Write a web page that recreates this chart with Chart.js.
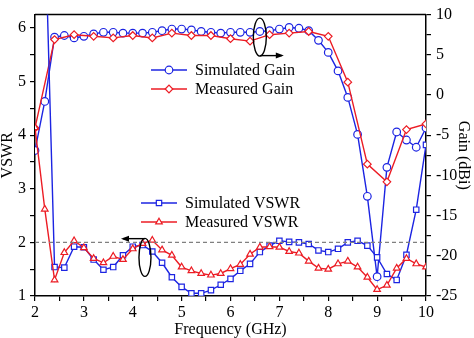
<!DOCTYPE html>
<html>
<head>
<meta charset="utf-8">
<script src="https://cdn.jsdelivr.net/npm/chart.js@4.4.0/dist/chart.umd.min.js"></script>
<style>
  html, body { margin: 0; padding: 0; background: #fff; }
  canvas { display: block; }
</style>
</head>
<body>
<canvas id="c" width="474" height="338"></canvas>
<script>
// frequency grids (GHz)
const FREQ_FINE = [2.0, 2.2, 2.4, 2.6, 2.8, 3.0, 3.2, 3.4, 3.6, 3.8, 4.0, 4.2, 4.4, 4.6, 4.8,
  5.0, 5.2, 5.4, 5.6, 5.8, 6.0, 6.2, 6.4, 6.6, 6.8, 7.0, 7.2, 7.4, 7.6, 7.8, 8.0,
  8.2, 8.4, 8.6, 8.8, 9.0, 9.2, 9.4, 9.6, 9.8, 10.0];
const FREQ_COARSE = [2.0, 2.4, 2.8, 3.2, 3.6, 4.0, 4.4, 4.8, 5.2, 5.6, 6.0, 6.4, 6.8,
  7.2, 7.6, 8.0, 8.4, 8.8, 9.2, 9.6, 10.0];

// gain (dBi), right axis
const SIM_GAIN = [-6.9, -0.8, 7.2, 7.4, 7.1, 7.3, 7.6, 7.8, 7.8, 7.7, 7.7, 7.7, 7.8, 8.0, 8.2,
  8.2, 8.1, 7.9, 7.8, 7.7, 7.8, 7.8, 7.8, 7.9, 8.0, 8.2, 8.4, 8.3, 8.0, 6.8, 5.3,
  3.0, -0.3, -4.9, -12.6, -22.6, -9.0, -4.6, -5.6, -6.5, -4.1];
const MEAS_GAIN = [-4.1, 6.9, 7.5, 7.3, 7.1, 7.4, 7.1, 7.7, 7.4, 7.4, 7.0, 6.7, 7.5,
  7.7, 7.9, 7.3, 1.6, -8.6, -10.8, -4.3, -3.6];

// VSWR, left axis
const SIM_VSWR = [null, 8.1, 1.54, 1.53, 1.92, 1.91, 1.68, 1.49, 1.54, 1.76, 1.92, 1.95, 1.83, 1.62, 1.35,
  1.17, 1.05, 1.05, 1.11, 1.21, 1.32, 1.47, 1.60, 1.82, 1.94, 2.03, 2.01, 2.00, 1.97, 1.85, 1.82,
  1.88, 2.00, 2.03, 1.94, 1.72, 1.41, 1.30, 1.77, 2.61, 3.82];
const MEAS_VSWR = [4.14, 2.62, 1.30, 1.81, 2.03, 1.90, 1.70, 1.62, 1.74, 1.68, 1.88, 1.98, 2.04, 1.86, 1.76,
  1.54, 1.47, 1.42, 1.39, 1.42, 1.51, 1.59, 1.78, 1.91, 1.92, 1.91, 1.83, 1.80, 1.65, 1.52, 1.50,
  1.60, 1.65, 1.54, 1.35, 1.12, 1.20, 1.52, 1.70, 1.60, 1.54];

// VSWR = 2 reference line
const REF_FREQ = [2, 10];
const REF_VSWR = [2, 2];

// tick labels
const FREQ_TICKS = [2, 3, 4, 5, 6, 7, 8, 9, 10];
const VSWR_TICKS = [1, 2, 3, 4, 5, 6];
const GAIN_TICKS = [-25, -20, -15, -10, -5, 0, 5, 10];

const BLUE = 'rgb(28,36,226)';
const RED = 'rgb(236,28,36)';
const SERIF = '"Liberation Serif", "Times New Roman", serif';

const pts = (xs, ys) => xs.map((x, i) => ({ x, y: ys[i] }));

// majors plus midpoints as minor ticks
function withMinors(major) {
  const out = [];
  major.forEach((v, i) => {
    out.push({ value: v });
    if (i < major.length - 1) out.push({ value: (v + major[i + 1]) / 2 });
  });
  return out;
}

function series(label, xs, ys, color, style, axis) {
  return {
    label, data: pts(xs, ys), yAxisID: axis,
    borderColor: color, borderWidth: 1.4,
    pointStyle: style, pointRadius: 3.8,
    pointBorderColor: color, pointBackgroundColor: '#fff', pointBorderWidth: 1.2,
    tension: 0, spanGaps: false,
  };
}

const LEGEND = [
  { text: 'Simulated Gain', color: BLUE, style: 'circle', x: 151, y: 70 },
  { text: 'Measured Gain', color: RED, style: 'rectRot', x: 151, y: 89 },
  { text: 'Simulated VSWR', color: BLUE, style: 'rect', x: 141, y: 203 },
  { text: 'Measured VSWR', color: RED, style: 'triangle', x: 141, y: 222 },
];

const extras = {
  id: 'extras',
  beforeDatasetsDraw(chart) {
    const { ctx, chartArea: a } = chart;
    ctx.save();
    ctx.strokeStyle = '#000';
    ctx.lineWidth = 1.5;
    ctx.beginPath();
    ctx.moveTo(a.left, a.top);
    ctx.lineTo(a.right, a.top);
    ctx.stroke();
    ctx.restore();
  },
  afterDraw(chart) {
    const { ctx, scales } = chart;
    const x = scales.x, yl = scales.y, yr = scales.y2;
    ctx.save();
    ctx.strokeStyle = '#000';
    ctx.fillStyle = '#000';
    ctx.lineWidth = 1.4;

    // ellipse + arrow pointing at the axis it belongs to
    const drawMark = (cx, cy, rx, ry, x0, y0, x1) => {
      ctx.beginPath();
      ctx.ellipse(cx, cy, rx, ry, 0, 0, Math.PI * 2);
      ctx.stroke();
      ctx.beginPath();
      ctx.moveTo(x0, y0);
      ctx.lineTo(x1, y0);
      ctx.stroke();
      const d = x1 > x0 ? 1 : -1;
      ctx.beginPath();
      ctx.moveTo(x1 + d * 2, y0);
      ctx.lineTo(x1 - d * 6, y0 - 3);
      ctx.lineTo(x1 - d * 6, y0 + 3);
      ctx.closePath();
      ctx.fill();
    };
    const g1x = x.getPixelForValue(6.6), g1y = yr.getPixelForValue(7.2);
    drawMark(g1x, g1y, 6.5, 19, g1x, yr.getPixelForValue(4.9), x.getPixelForValue(7.05));
    const v1x = x.getPixelForValue(4.25), v1y = yl.getPixelForValue(1.72);
    drawMark(v1x, v1y, 6, 19, v1x, yl.getPixelForValue(2.07), x.getPixelForValue(3.8));

    // legend
    ctx.font = '16px ' + SERIF;
    ctx.textBaseline = 'middle';
    LEGEND.forEach(it => {
      ctx.strokeStyle = it.color;
      ctx.lineWidth = 1.4;
      ctx.beginPath();
      ctx.moveTo(it.x, it.y);
      ctx.lineTo(it.x + 36, it.y);
      ctx.stroke();
      ctx.fillStyle = '#fff';
      ctx.lineWidth = 1.2;
      Chart.helpers.drawPoint(ctx, { pointStyle: it.style, radius: 3.8, borderWidth: 1.2 }, it.x + 18, it.y);
      ctx.fillStyle = '#000';
      ctx.fillText(it.text, it.x + 44, it.y + 1);
    });
    ctx.restore();
  }
};

const axisCommon = {
  grid: { drawOnChartArea: false, drawTicks: true, tickLength: 5, color: '#000', lineWidth: 1.2 },
  border: { color: '#000', width: 1.5 },
};

new Chart(document.getElementById('c'), {
  type: 'line',
  data: {
    datasets: [
      { label: 'ref', data: pts(REF_FREQ, REF_VSWR), yAxisID: 'y', borderColor: '#808080',
        borderWidth: 1.3, borderDash: [4, 3], pointRadius: 0 },
      series('Measured VSWR', FREQ_FINE, MEAS_VSWR, RED, 'triangle', 'y'),
      series('Simulated VSWR', FREQ_FINE, SIM_VSWR, BLUE, 'rect', 'y'),
      series('Measured Gain', FREQ_COARSE, MEAS_GAIN, RED, 'rectRot', 'y2'),
      series('Simulated Gain', FREQ_FINE, SIM_GAIN, BLUE, 'circle', 'y2'),
    ]
  },
  options: {
    responsive: false, animation: false, devicePixelRatio: 1,
    layout: { padding: { top: 6, left: 0, right: 0, bottom: 0 } },
    plugins: { legend: { display: false }, tooltip: { enabled: false } },
    scales: {
      x: {
        ...axisCommon, type: 'linear', min: 2, max: 10,
        afterFit: s => { s.height = 42; },
        afterBuildTicks: s => { s.ticks = withMinors(FREQ_TICKS); },
        ticks: { color: '#000', font: { family: SERIF, size: 16 }, padding: 2, maxRotation: 0, autoSkip: false,
          callback: v => FREQ_TICKS.includes(v) ? String(v) : '' },
        title: { display: true, text: 'Frequency (GHz)', color: '#000',
          font: { family: SERIF, size: 16, lineHeight: 1.0 }, padding: 0 },
      },
      y: {
        ...axisCommon, type: 'linear', position: 'left', min: 1, max: 6.25,
        afterFit: s => { s.width = 35; },
        afterBuildTicks: s => { s.ticks = withMinors(VSWR_TICKS); },
        ticks: { color: '#000', font: { family: SERIF, size: 16 }, padding: 4, autoSkip: false,
          callback: v => VSWR_TICKS.includes(v) ? String(v) : '' },
        title: { display: true, text: 'VSWR', color: '#000',
          font: { family: SERIF, size: 16, lineHeight: 1.0 }, padding: 0 },
      },
      y2: {
        ...axisCommon, type: 'linear', position: 'right', min: -25, max: 10,
        afterFit: s => { s.width = 48; },
        afterBuildTicks: s => { s.ticks = withMinors(GAIN_TICKS); },
        ticks: { color: '#000', font: { family: SERIF, size: 16 }, padding: 5, autoSkip: false,
          callback: v => GAIN_TICKS.includes(v) ? String(v) : '' },
        title: { display: true, text: 'Gain (dBi)', color: '#000',
          font: { family: SERIF, size: 16, lineHeight: 1.4 }, padding: 0 },
      },
    }
  },
  plugins: [extras]
});
</script>
</body>
</html>
